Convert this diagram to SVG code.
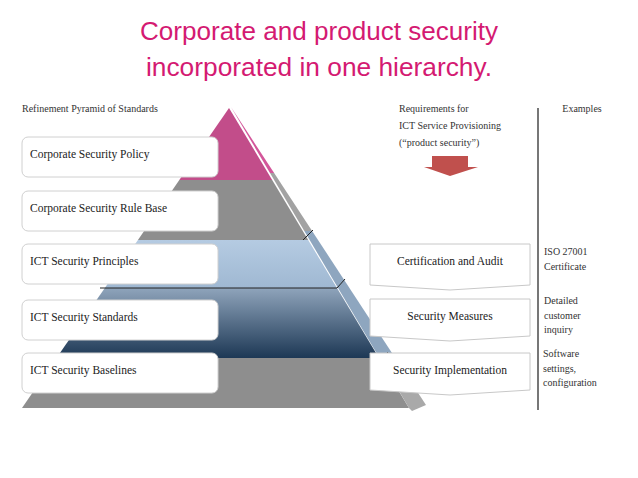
<svg xmlns="http://www.w3.org/2000/svg" width="638" height="478" viewBox="0 0 638 478">
<defs>
<linearGradient id="dk" x1="0" y1="0" x2="0" y2="1"><stop offset="0" stop-color="#8fa4bb"/><stop offset="1" stop-color="#1d3855"/></linearGradient>
<linearGradient id="lb" x1="0" y1="0" x2="0" y2="1"><stop offset="0" stop-color="#b5cbe2"/><stop offset="1" stop-color="#9fb8d2"/></linearGradient>
<clipPath id="front"><polygon points="229,108 22,408 409,408"/></clipPath>
<clipPath id="side"><polygon points="231,107 426,405 412,411 409,408"/></clipPath>
<style>
.lb{fill:#fff;stroke:#d0d0d0;stroke-width:1}
.rb{fill:#fff;stroke:#c8c8c8;stroke-width:1}
.t{font-family:"Liberation Serif",serif;font-size:11.5px;fill:#222}
.s{font-family:"Liberation Serif",serif;font-size:10px;fill:#333}
</style>
</defs>
<text x="319" y="40" text-anchor="middle" font-family="Liberation Sans, sans-serif" font-size="26" fill="#d41a72" textLength="358" lengthAdjust="spacingAndGlyphs">Corporate and product security</text>
<text x="319" y="76" text-anchor="middle" font-family="Liberation Sans, sans-serif" font-size="26" fill="#d41a72" textLength="346" lengthAdjust="spacingAndGlyphs">incorporated in one hierarchy.</text>
<g id="pyramid">
<g clip-path="url(#front)">
<rect x="0" y="100" width="440" height="80" fill="#c24d8a"/>
<rect x="0" y="180" width="440" height="60" fill="#8e8e8e"/>
<rect x="0" y="240" width="440" height="48" fill="url(#lb)"/>
<rect x="0" y="288" width="440" height="70" fill="url(#dk)"/>
<rect x="0" y="358" width="440" height="52" fill="#8e8e8e"/>
</g>
<g clip-path="url(#side)">
<rect x="200" y="100" width="240" height="73" fill="#d3569a"/>
<rect x="200" y="173" width="240" height="58" fill="#a2a2a2"/>
<rect x="200" y="231" width="240" height="130" fill="#8ea6bf"/>
<rect x="200" y="361" width="240" height="60" fill="#a9a9a9"/>
</g>
<line x1="100" y1="288" x2="337" y2="288" stroke="#222" stroke-width="1"/>
<line x1="337" y1="288" x2="345" y2="279" stroke="#222" stroke-width="1"/>
<line x1="303" y1="240" x2="313" y2="230" stroke="#222" stroke-width="1"/>
<line x1="380" y1="360" x2="388" y2="352" stroke="#444" stroke-width="1"/>
</g>
<text class="s" x="22" y="112">Refinement  Pyramid  of  Standards</text>
<g id="n1"><rect class="lb" x="22" y="137" width="196" height="40" rx="6"/><text class="t" x="30" y="158">Corporate Security Policy</text></g>
<g id="n2"><rect class="lb" x="22" y="191" width="196" height="40" rx="6"/><text class="t" x="30" y="212">Corporate Security Rule Base</text></g>
<g id="n3"><rect class="lb" x="22" y="244" width="196" height="40" rx="6"/><text class="t" x="30" y="265">ICT Security Principles</text></g>
<g id="n4"><rect class="lb" x="22" y="300" width="196" height="40" rx="6"/><text class="t" x="30" y="321">ICT Security Standards</text></g>
<g id="n5"><rect class="lb" x="22" y="353" width="196" height="40" rx="6"/><text class="t" x="30" y="374">ICT Security Baselines</text></g>
<g id="req"><text class="s" x="399" y="112">Requirements for</text><text class="s" x="399" y="129">ICT Service Provisioning</text><text class="s" x="399" y="146">(“product security”)</text>
<polygon points="432,156 468,156 468,167 478,167 450,176 424,167 432,167" fill="#c0504d"/></g>
<g id="r1"><polygon class="rb" points="370,244 530,244 530,285 450,290 370,285"/><text class="t" x="450" y="265" text-anchor="middle">Certification and Audit</text></g>
<g id="r2"><polygon class="rb" points="370,299 530,299 530,336 450,341 370,336"/><text class="t" x="450" y="320" text-anchor="middle">Security Measures</text></g>
<g id="r3"><polygon class="rb" points="370,353 530,353 530,390 450,395 370,390"/><text class="t" x="450" y="374" text-anchor="middle">Security Implementation</text></g>
<line x1="538" y1="108" x2="538" y2="410" stroke="#777" stroke-width="2"/>
<g id="ex"><text class="s" x="582" y="112" text-anchor="middle">Examples</text>
<text class="s" x="544" y="255">ISO 27001</text><text class="s" x="544" y="270">Certificate</text>
<text class="s" x="544" y="304">Detailed</text><text class="s" x="544" y="319">customer</text><text class="s" x="544" y="333">inquiry</text>
<text class="s" x="543" y="357">Software</text><text class="s" x="543" y="372">settings,</text><text class="s" x="543" y="386">configuration</text></g>
</svg>
